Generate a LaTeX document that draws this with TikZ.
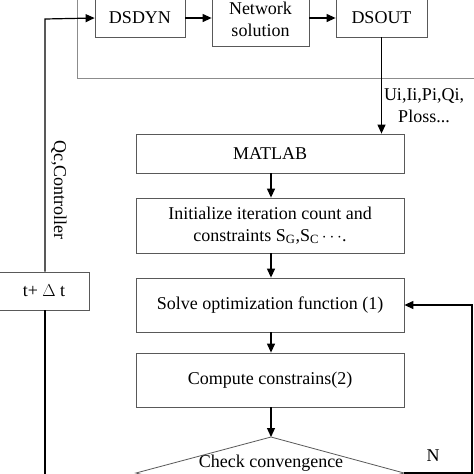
\documentclass[tikz,border=0pt]{standalone}
\usepackage{fontspec}
\setmainfont{Liberation Serif}
\usetikzlibrary{arrows.meta}
\begin{document}
\begin{tikzpicture}[x=1pt,y=-1pt,
  box/.style={draw=black!65,line width=0.8pt,fill=white,inner sep=0pt,align=center,font=\fontsize{18}{22}\selectfont},
  arr/.style={-{Triangle[length=9pt,width=8pt]},line width=1.2pt,black},
  ln/.style={line width=1.2pt,black},
  lbl/.style={font=\fontsize{18}{22}\selectfont,align=center,inner sep=0pt}]
\useasboundingbox (0,0) rectangle (474,474);
\clip (0,0) rectangle (474,474);
% outer gray frame
\draw[black!45,line width=0.8pt] (77,-10) rectangle (490,78);
% top boxes
\node[box,minimum width=90,minimum height=38] (dsdyn) at (140,18) {DSDYN};
\node[box,minimum width=97,minimum height=54] (net) at (260.5,19) {Network\\solution};
\node[box,minimum width=91,minimum height=38] (dsout) at (381.5,18) {DSOUT};
% flow boxes
\node[box,minimum width=268,minimum height=39] (matlab) at (270,153.5) {MATLAB};
\node[box,minimum width=268,minimum height=55] (init) at (270,225.5) {Initialize iteration count and\\constraints S$_{\mathrm{G}}$,S$_{\mathrm{C}}\cdots$.};
\node[box,minimum width=268,minimum height=54] (solve) at (270,305) {Solve optimization function (1)};
\node[box,minimum width=268,minimum height=54] (comp) at (270,380) {Compute constrains(2)};
% diamond
\coordinate (dtop) at (271,437);
\coordinate (dleft) at (136,473);
\coordinate (dright) at (404,473);
\coordinate (dbot) at (271,509);
\draw[black!65,line width=0.8pt,fill=white] (dtop) -- (dright) -- (dbot) -- (dleft) -- cycle;
\node[lbl] (check) at (271,463) {Check convengence};
% t + dt
\node[box,minimum width=90,minimum height=38] (tdt) at (44,291) {t+ $\Delta$ t};
% connectors
\coordinate (lt) at (45,19);
\coordinate (lb) at (45,480);
\draw[arr] (tdt.north -| lt) -- (lt) -- (dsdyn.west);
\draw[ln] (tdt.south -| lt) -- (lb);
\draw[arr] (dsdyn.east) -- (net.west |- dsdyn.east);
\draw[arr] (net.east |- dsout.west) -- (dsout.west);
\draw[arr] (dsout.south) -- (matlab.north -| dsout.south);
\draw[arr] (matlab.south -| dtop) -- (init.north -| dtop);
\draw[arr] (init.south -| dtop) -- (solve.north -| dtop);
\draw[arr] (solve.south -| dtop) -- (comp.north -| dtop);
\draw[arr] (comp.south -| dtop) -- (dtop);
\coordinate (nr) at (472,473);
\draw[arr] (dright) -- (nr) -- (nr |- solve.east) -- (solve.east);
% labels
\node[lbl] (uilbl) at (424,106) {Ui,Ii,Pi,Qi,\\Ploss...};
\node[lbl,rotate=-90] (qclbl) at (59,190) {Qc,Controller};
\node[lbl] (nlbl) at (433,456) {N};
\end{tikzpicture}
\end{document}
